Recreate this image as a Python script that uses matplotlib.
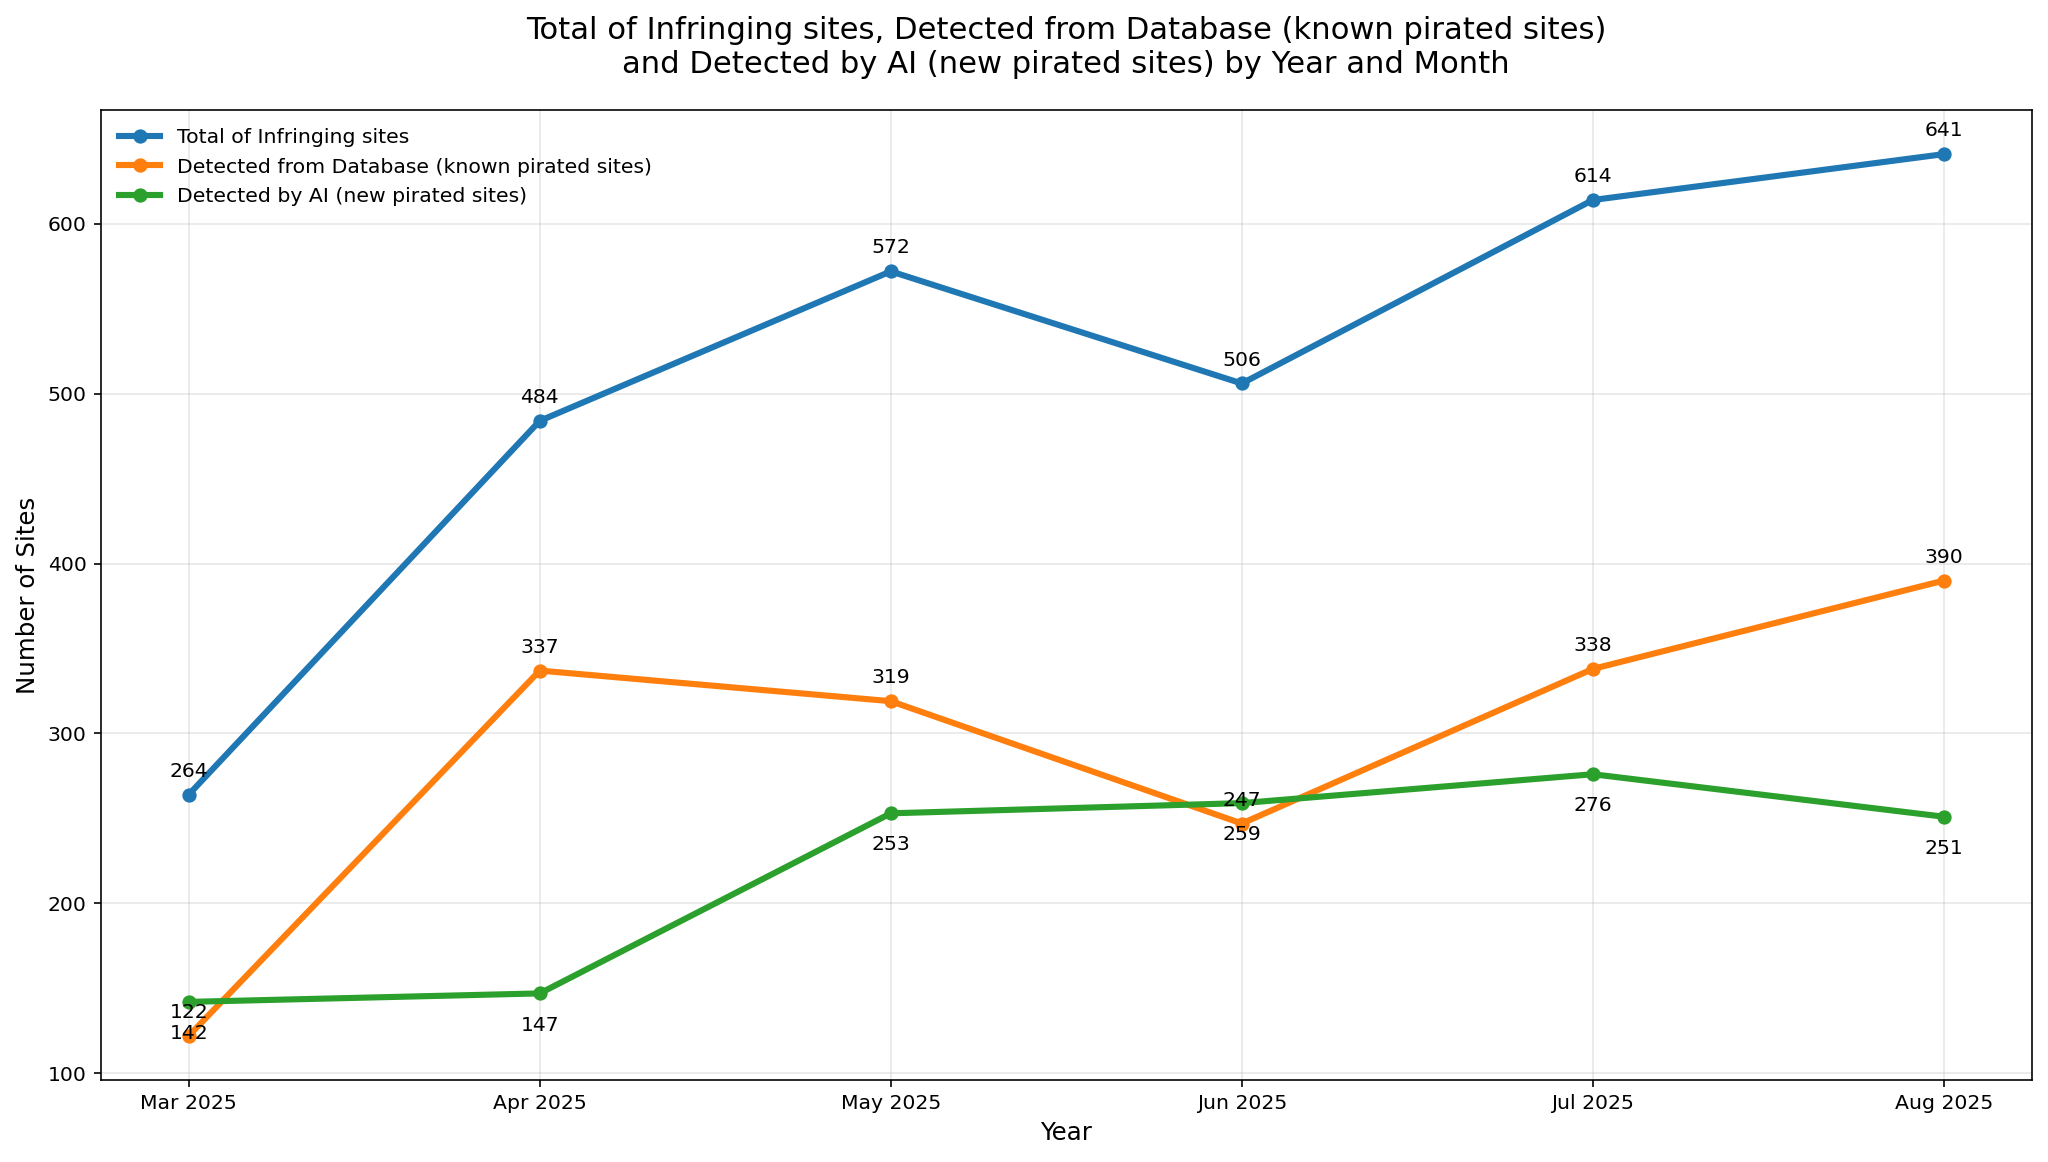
import matplotlib
matplotlib.use("Agg")
import matplotlib.pyplot as plt

# Data
months = ['Mar 2025', 'Apr 2025', 'May 2025', 'Jun 2025', 'Jul 2025', 'Aug 2025']
total_sites = [264, 484, 572, 506, 614, 641]
from_database = [122, 337, 319, 247, 338, 390]
by_ai = [142, 147, 253, 259, 276, 251]

DPI = 147
fig = plt.figure(figsize=(2048 / DPI, 1162 / DPI), dpi=DPI)
ax = fig.add_subplot(111)
fig.subplots_adjust(left=0.0493, right=0.992, top=0.9053, bottom=0.0706)

x = list(range(len(months)))
ax.plot(x, total_sites, marker='o', linewidth=3, markersize=6, color='#1f77b4',
        label='Total of Infringing sites')
ax.plot(x, from_database, marker='o', linewidth=3, markersize=6, color='#ff7f0e',
        label='Detected from Database (known pirated sites)')
ax.plot(x, by_ai, marker='o', linewidth=3, markersize=6, color='#2ca02c',
        label='Detected by AI (new pirated sites)')

# value labels: blue/orange above, green below
for i in x:
    ax.annotate(str(total_sites[i]), (i, total_sites[i]), xytext=(0, 11.5),
                textcoords='offset points', ha='center', va='center', fontsize=10)
    ax.annotate(str(from_database[i]), (i, from_database[i]), xytext=(0, 11.5),
                textcoords='offset points', ha='center', va='center', fontsize=10)
    ax.annotate(str(by_ai[i]), (i, by_ai[i]), xytext=(0, -15.5),
                textcoords='offset points', ha='center', va='center', fontsize=10)

ax.set_xticks(x)
ax.set_xticklabels(months)
ax.set_title('Total of Infringing sites, Detected from Database (known pirated sites)\n'
             'and Detected by AI (new pirated sites) by Year and Month',
             fontsize=15, pad=18, linespacing=1.25)
ax.set_xlabel('Year', fontsize=12)
ax.set_ylabel('Number of Sites', fontsize=12)
ax.grid(True, alpha=0.3)
ax.legend(loc='upper left', frameon=False, fontsize=10)

fig.savefig('out.png', dpi=DPI)
